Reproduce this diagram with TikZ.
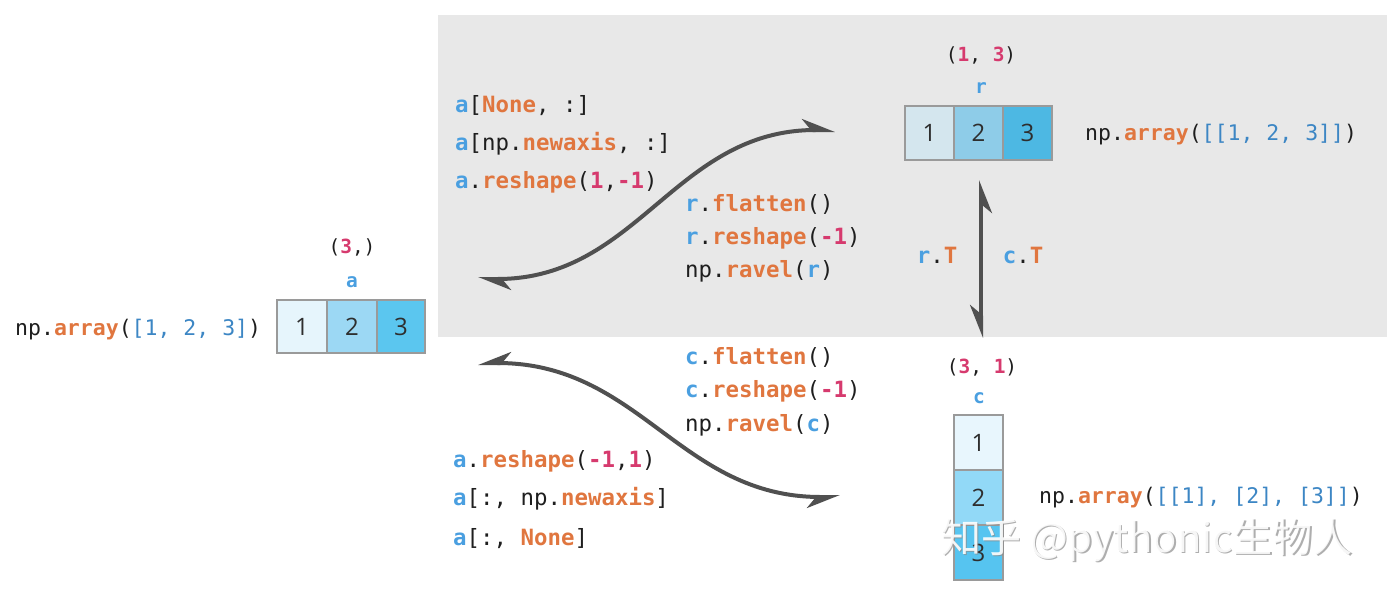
\documentclass[tikz,border=0pt]{standalone}
\usepackage{fontspec}
\usetikzlibrary{arrows.meta}
\newfontfamily\codefont{DejaVu Sans Mono}
\newfontfamily\cellfont{Open Sans}
\newfontfamily\wmfont{Noto Sans CJK SC}
\definecolor{bggray}{HTML}{E8E8E8}
\definecolor{varblue}{HTML}{4A9FE0}
\definecolor{methor}{HTML}{E0763F}
\definecolor{nummag}{HTML}{D63A6E}
\definecolor{arrblue}{HTML}{3C86C4}
\definecolor{codedark}{HTML}{1E1E1E}
\definecolor{connc}{HTML}{505050}
\definecolor{cellline}{HTML}{9A9A9A}
\definecolor{aone}{HTML}{E6F5FC}
\definecolor{atwo}{HTML}{9CD8F4}
\definecolor{athree}{HTML}{5BC6EF}
\definecolor{rone}{HTML}{D4E6EE}
\definecolor{rtwo}{HTML}{8ECCE8}
\definecolor{rthree}{HTML}{4DB8E3}
\definecolor{cone}{HTML}{E8F6FD}
\definecolor{ctwo}{HTML}{92D9F7}
\definecolor{cthree}{HTML}{56C4F0}
\newcommand{\xvar}[1]{\textcolor{varblue}{\bfseries #1}}
\newcommand{\xmeth}[1]{\textcolor{methor}{\bfseries #1}}
\newcommand{\xnum}[1]{\textcolor{nummag}{\bfseries #1}}
\newcommand{\xarr}[1]{\textcolor{arrblue}{#1}}
\tikzset{
  tipa/.tip={Stealth[harpoon,length=28pt,width=22pt,inset=9pt]},
  tipb/.tip={Stealth[harpoon,swap,length=28pt,width=22pt,inset=9pt]}
}
\begin{document}
\begin{tikzpicture}[x=1pt,y=-1pt,
  code/.style={anchor=west,inner sep=0pt,yshift=-4pt,text=codedark,font=\codefont\fontsize{22.4}{26}\selectfont,text height=0.76em,text depth=0.14em},
  arrlabel/.style={code,font=\codefont\fontsize{21.5}{25}\selectfont},
  shapelabel/.style={anchor=center,inner sep=0pt,yshift=-3.5pt,text=codedark,font=\codefont\fontsize{19.5}{23}\selectfont,text height=0.76em,text depth=0.14em},
  cellbox/.style={draw=cellline,line width=1.4pt,inner sep=0pt,text=black!82,font=\cellfont\fontsize{24}{28}\selectfont},
  conn/.style={draw=connc,line width=4pt},
  wm/.style={inner sep=0pt,font=\wmfont\fontsize{40}{44}\selectfont}
]
\useasboundingbox (0,0) rectangle (1394,602);
\fill[bggray] (438,15) rectangle (1387,337);

% array a
\node[cellbox,fill=aone,minimum width=50,minimum height=53] (a1) at (302,326.5) {1};
\node[cellbox,fill=atwo,minimum width=50,minimum height=53] (a2) at (352,326.5) {2};
\node[cellbox,fill=athree,minimum width=48,minimum height=53] (a3) at (401,326.5) {3};
\node[shapelabel] (ashape) at (352,247) {(\xnum{3},)};
\node[shapelabel] (aname) at (352,281) {\xvar{a}};
\node[arrlabel] (aexpr) at (15,328) {np.\xmeth{array}(\xarr{[1, 2, 3]})};

% array r
\node[cellbox,fill=rone,minimum width=49,minimum height=54] (r1) at (929.5,133) {1};
\node[cellbox,fill=rtwo,minimum width=49,minimum height=54] (r2) at (978.5,133) {2};
\node[cellbox,fill=rthree,minimum width=49,minimum height=54] (r3) at (1027.5,133) {3};
\node[shapelabel] (rshape) at (981,55) {(\xnum{1}, \xnum{3})};
\node[shapelabel] (rname) at (981,87) {\xvar{r}};
\node[arrlabel] (rexpr) at (1085,133) {np.\xmeth{array}(\xarr{[[1, 2, 3]]})};

% array c
\node[cellbox,fill=cone,minimum width=49,minimum height=55] (c1) at (978.5,442.5) {1};
\node[cellbox,fill=ctwo,minimum width=49,minimum height=55] (c2) at (978.5,497.5) {2};
\node[cellbox,fill=cthree,minimum width=49,minimum height=55] (c3) at (978.5,552.5) {3};
\node[shapelabel] (cshape) at (982,367) {(\xnum{3}, \xnum{1})};
\node[shapelabel] (cname) at (979,397) {\xvar{c}};
\node[arrlabel] (cexpr) at (1039,496) {np.\xmeth{array}(\xarr{[[1], [2], [3]]})};

% code labels upper
\node[code] (t1) at (455,105) {\xvar{a}[\xmeth{None}, :]};
\node[code] (t2) at (455,143) {\xvar{a}[np.\xmeth{newaxis}, :]};
\node[code] (t3) at (455,181) {\xvar{a}.\xmeth{reshape}(\xnum{1},\xnum{-1})};
\node[code] (t4) at (685,204) {\xvar{r}.\xmeth{flatten}()};
\node[code] (t5) at (685,237) {\xvar{r}.\xmeth{reshape}(\xnum{-1})};
\node[code] (t6) at (685,270) {np.\xmeth{ravel}(\xvar{r})};
% code labels lower
\node[code] (b1) at (685,357) {\xvar{c}.\xmeth{flatten}()};
\node[code] (b2) at (685,390) {\xvar{c}.\xmeth{reshape}(\xnum{-1})};
\node[code] (b3) at (685,424) {np.\xmeth{ravel}(\xvar{c})};
\node[code] (b4) at (453,460) {\xvar{a}.\xmeth{reshape}(\xnum{-1},\xnum{1})};
\node[code] (b5) at (453,498) {\xvar{a}[:, np.\xmeth{newaxis}]};
\node[code] (b6) at (453,538) {\xvar{a}[:, \xmeth{None}]};
% transpose labels
\node[code,anchor=center] (rt) at (937,256) {\xvar{r}.\xmeth{T}};
\node[code,anchor=center] (ct) at (1023,256) {\xvar{c}.\xmeth{T}};

% connectors
\coordinate (ua) at (478,279);
\coordinate (ub) at (835,130);
\coordinate (la) at (478,363);
\coordinate (lb) at (840,497);
\coordinate (vt) at (981,180);
\coordinate (vb) at (981,338);
\draw[conn,tipa-tipa] (ua) .. controls (638,279) and (675,130) .. (ub);
\draw[conn,tipb-tipb] (la) .. controls (640,363) and (680,497) .. (lb);
\draw[conn,tipb-tipb] (vt) -- (vb);

% watermark
\node[wm,text=black!45,opacity=0.7] (wmshadow) at (1148.5,541.5) {知乎 @pythonic生物人};
\node[wm,text=white,opacity=0.9] (wmtext) at (1147,540) {知乎 @pythonic生物人};
\end{tikzpicture}
\end{document}
